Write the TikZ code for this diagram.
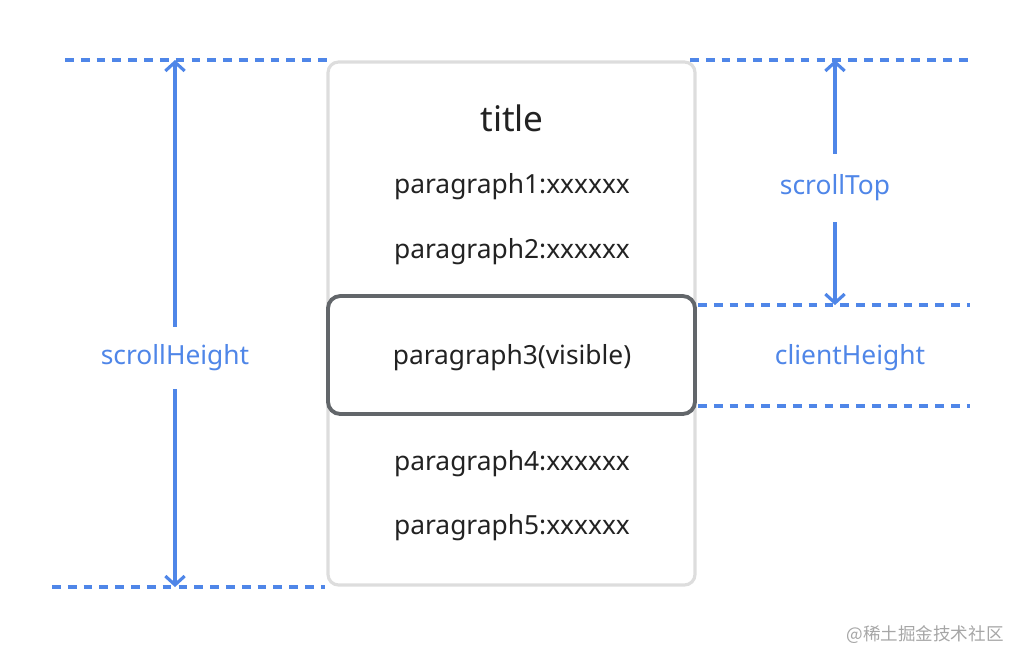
\documentclass[tikz,border=0pt]{standalone}
\usepackage{fontspec}
\setmainfont{Noto Sans}
\newfontfamily\cjkfont{Noto Sans CJK SC}
\usetikzlibrary{arrows.meta}
\definecolor{lineblue}{HTML}{4F86E8}
\definecolor{boxgray}{HTML}{DDDDDD}
\definecolor{darkbox}{HTML}{62666A}
\definecolor{textgray}{HTML}{222222}
\tikzset{
  guide/.style={lineblue,line width=1.8pt,dash pattern=on 5pt off 4pt},
  measure/.style={lineblue,line width=1.8pt,{Straight Barb[length=5pt,width=11pt]}-{Straight Barb[length=5pt,width=11pt]}},
  para/.style={text=textgray,font=\fontsize{15}{17}\selectfont},
  blabel/.style={text=lineblue,font=\fontsize{15}{17}\selectfont,fill=white,inner sep=3pt}
}
\begin{document}
\begin{tikzpicture}[x=0.02cm,y=-0.02cm]
  \useasboundingbox (0,0) rectangle (1024,654);
  % content box
  \draw[boxgray,line width=1.8pt,rounded corners=6pt] (328,62) rectangle (695,585);
  \draw[darkbox,line width=2.2pt,rounded corners=7pt] (328,296) rectangle (695,414);
  \node[para,font=\fontsize{20}{23}\selectfont] (title) at (512,118) {title};
  \node[para] (p1) at (512,187) {paragraph1:xxxxxx};
  \node[para] (p2) at (512,252) {paragraph2:xxxxxx};
  \node[para] (p3) at (512,358) {paragraph3(visible)};
  \node[para] (p4) at (512,464) {paragraph4:xxxxxx};
  \node[para] (p5) at (512,528) {paragraph5:xxxxxx};
  % guides
  \coordinate (tl1) at (65,60);  \coordinate (tl2) at (328,60);
  \coordinate (bl1) at (52,587); \coordinate (bl2) at (325,587);
  \coordinate (tr1) at (690,60); \coordinate (tr2) at (970,60);
  \coordinate (mr1) at (698,305); \coordinate (mr2) at (970,305);
  \coordinate (lr1) at (698,406); \coordinate (lr2) at (970,406);
  \draw[guide] (tl1) -- (tl2);
  \draw[guide] (bl1) -- (bl2);
  \draw[guide] (tr1) -- (tr2);
  \draw[guide] (mr1) -- (mr2);
  \draw[guide] (lr1) -- (lr2);
  % measures
  \coordinate (sh1) at (175,60);  \coordinate (sh2) at (175,587);
  \coordinate (st1) at (835,60);  \coordinate (st2) at (835,305);
  \draw[measure] (sh1) -- (sh2);
  \draw[measure] (st1) -- (st2);
  \node[blabel,inner ysep=10pt] (sheight) at (175,358) {scrollHeight};
  \node[blabel,inner ysep=12pt] (stop) at (835,188) {scrollTop};
  \node[blabel] (cheight) at (850,358) {clientHeight};
  \node[text=gray!70,font=\cjkfont\fontsize{10}{12}\selectfont] (mark) at (925,635) {@稀土掘金技术社区};
\end{tikzpicture}
\end{document}
